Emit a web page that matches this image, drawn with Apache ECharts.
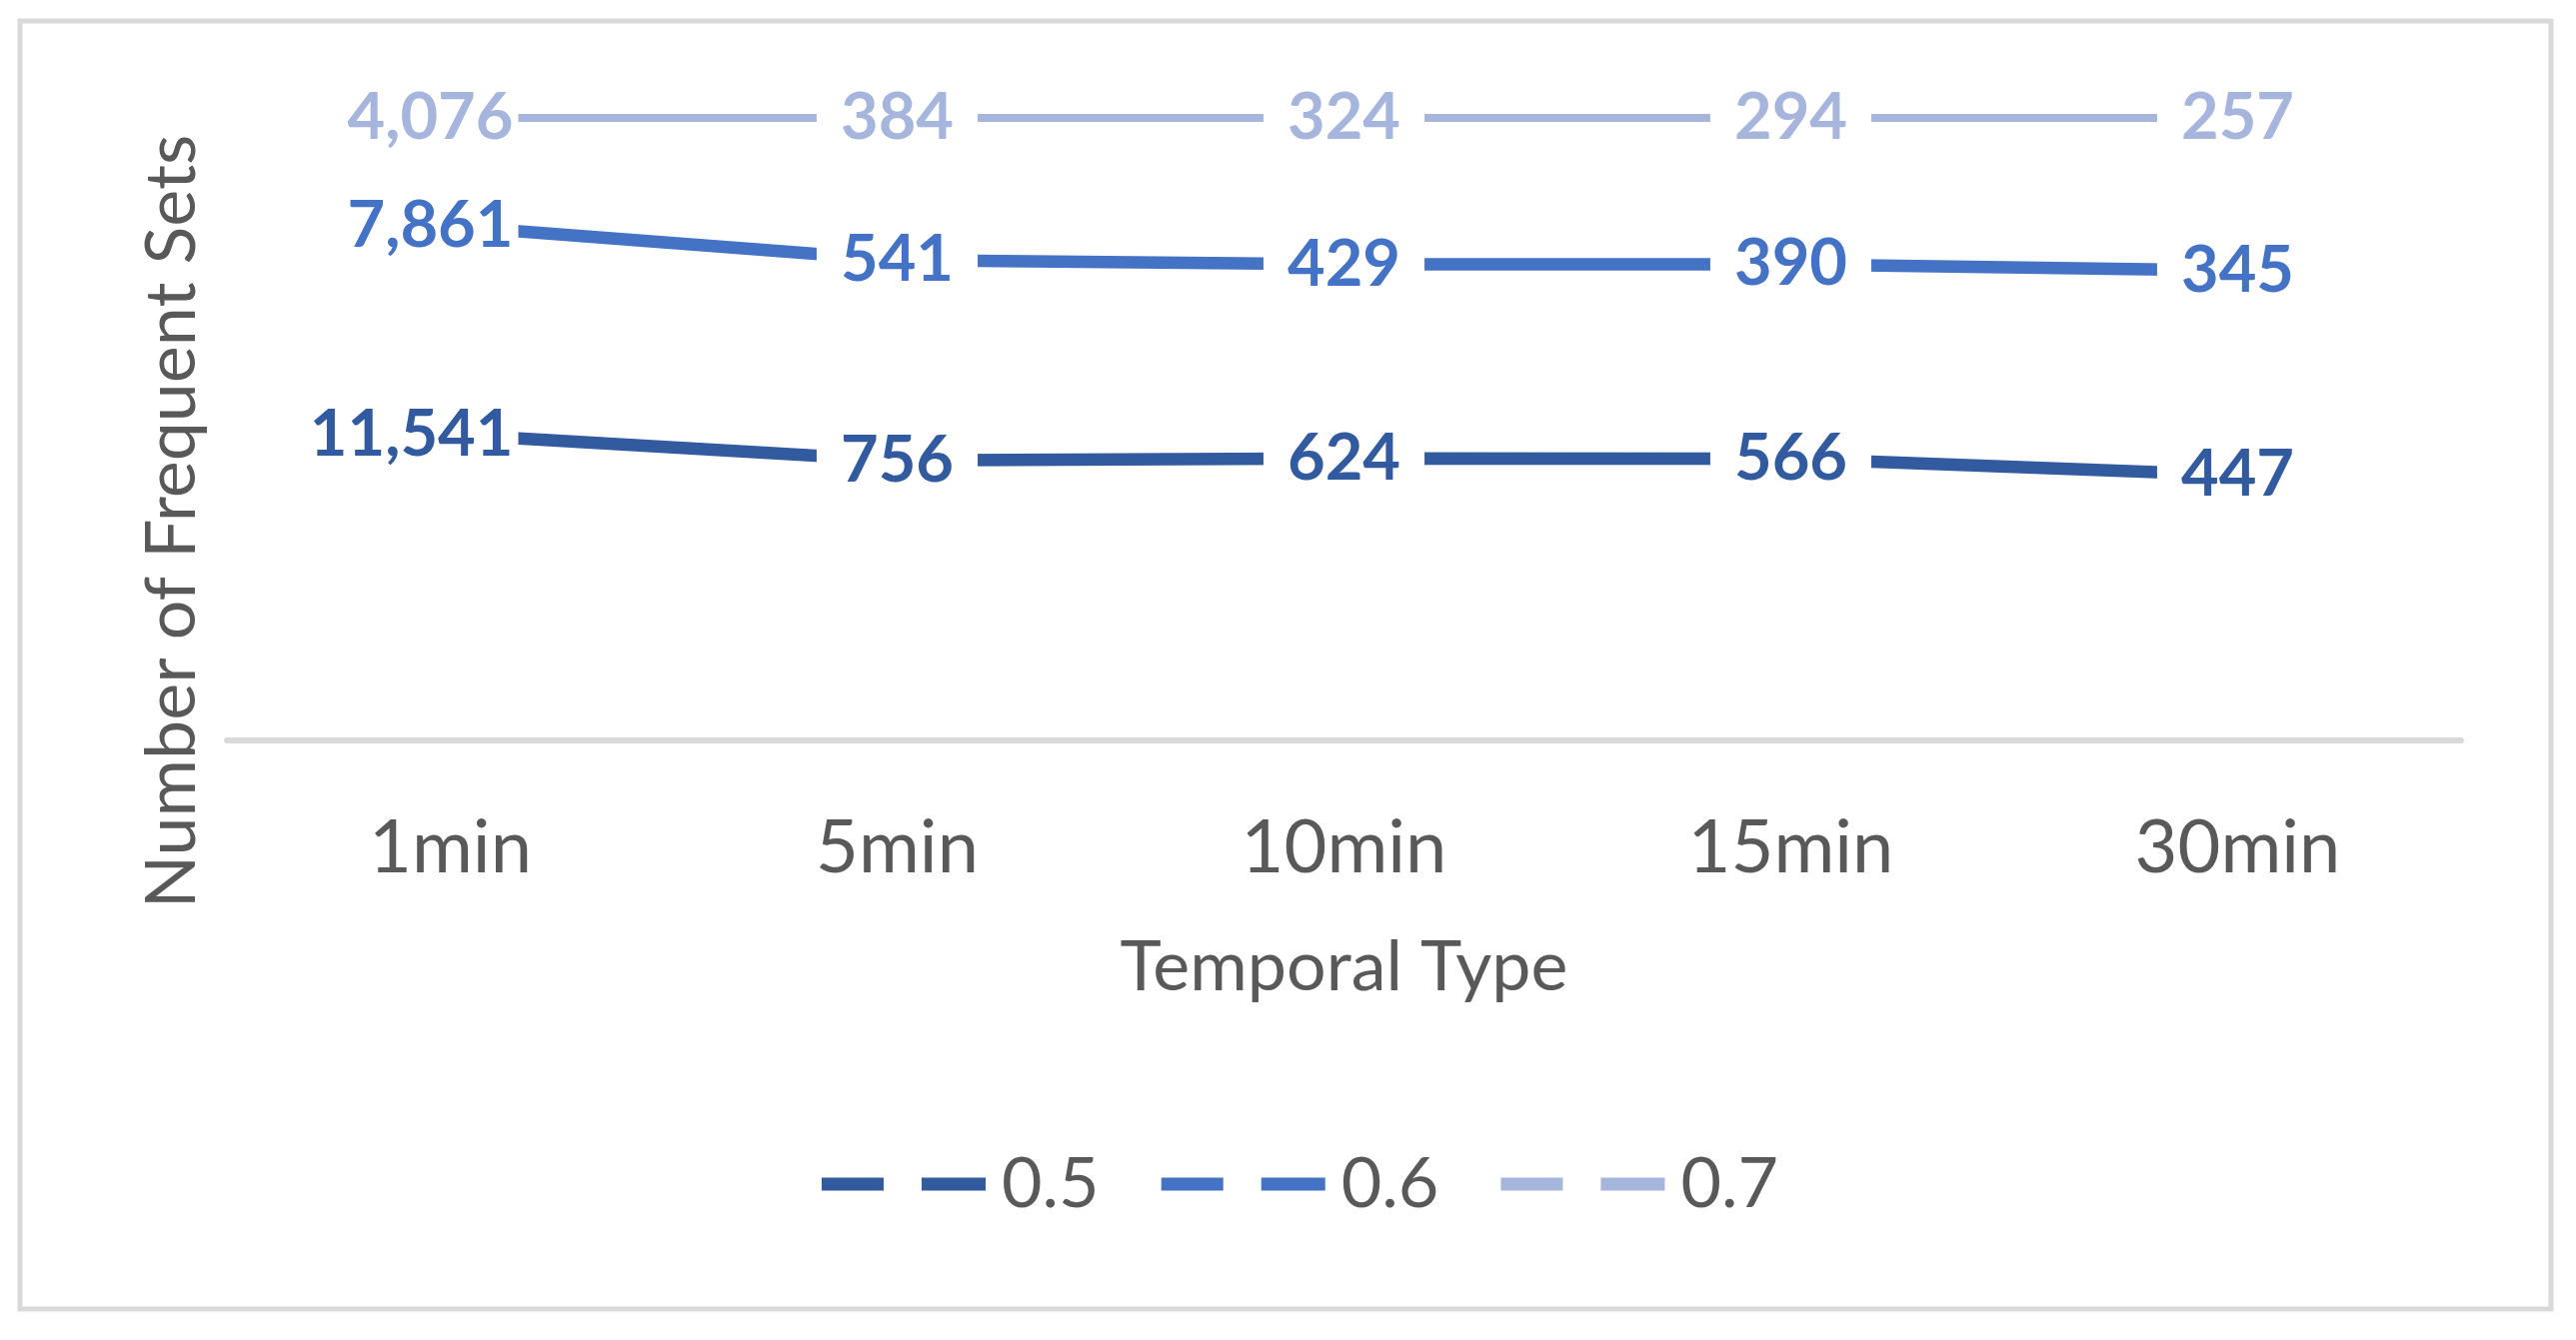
<!DOCTYPE html>
<html><head><meta charset="utf-8">
<script src="https://cdn.jsdelivr.net/npm/echarts@6/dist/echarts.min.js"></script>
<style>html,body{margin:0;padding:0;background:#fff}#c{width:2577px;height:1341px}</style>
</head><body><div id="c"></div>
<script>
const categories = ['1min', '5min', '10min', '15min', '30min'];
const seriesNames = ['0.5', '0.6', '0.7'];
const values05 = [11541, 756, 624, 566, 447];
const values06 = [7861, 541, 429, 390, 345];
const values07 = [4076, 384, 324, 294, 257];
const colors = ['#325a9f', '#4472c4', '#a6b5dc'];
const lineWidths = [12.5, 12.5, 8];

const raw = [values05, values06, values07];
// 100% stacked line: each value as share of the category total
const totals = categories.map((c, i) => raw.reduce((s, arr) => s + arr[i], 0));
const FONT = 'Lato';

const series = raw.map((arr, si) => ({
  name: seriesNames[si],
  type: 'line',
  stack: 'total',
  symbol: 'circle',
  symbolSize: 0.1,
  showSymbol: true,
  z: 2 + si,
  itemStyle: { color: colors[si] },
  lineStyle: { color: colors[si], width: lineWidths[si], cap: 'butt' },
  label: {
    show: true,
    position: 'inside',
    fontFamily: FONT,
    fontWeight: 'bold',
    fontSize: 65,
    color: colors[si],
    backgroundColor: '#ffffff',
    padding: [2, 24],
    formatter: p => raw[p.seriesIndex][p.dataIndex].toLocaleString('en-US')
  },
  data: arr.map((v, i) => {
    const item = { value: v / totals[i] };
    if (i === 0) item.label = { align: 'right', offset: [68, 0], padding: [2, 5, 2, 24] };
    return item;
  })
}));

const chart = echarts.init(document.getElementById('c'), null, { renderer: 'canvas' });
chart.setOption({
  animation: false,
  backgroundColor: '#ffffff',
  grid: { left: 227, right: 115, top: 118, bottom: 600, containLabel: false },
  xAxis: {
    type: 'category',
    data: categories,
    boundaryGap: true,
    axisLine: { show: true, lineStyle: { color: '#d9d9d9', width: 6 } },
    axisTick: { show: false },
    axisLabel: { color: '#595959', fontFamily: FONT, fontSize: 74, margin: 71 },
    name: 'Temporal Type',
    nameLocation: 'middle',
    nameGap: 192,
    nameTextStyle: { color: '#595959', fontFamily: FONT, fontSize: 70 }
  },
  yAxis: {
    type: 'value',
    min: 0,
    max: 1,
    show: false,
    splitLine: { show: false }
  },
  legend: {
    data: seriesNames,
    left: 817,
    top: 1145,
    itemWidth: 164,
    itemHeight: 13,
    itemGap: 62,
    icon: 'path://M0,0L62,0L62,13L0,13Z M100,0L164,0L164,13L100,13Z',
    textStyle: { color: '#595959', fontFamily: FONT, fontSize: 70, padding: [0, 0, 0, 11] }
  },
  graphic: [
    {
      type: 'rect',
      shape: { x: 20, y: 21, width: 2532, height: 1289 },
      style: { fill: 'none', stroke: '#d9d9d9', lineWidth: 5 },
      silent: true,
      z: 0
    },
    {
      type: 'text',
      x: 172,
      y: 522,
      rotation: Math.PI / 2,
      style: {
        text: 'Number of Frequent Sets',
        fontFamily: FONT,
        fontSize: 70,
        fill: '#595959',
        textAlign: 'center',
        textVerticalAlign: 'middle'
      },
      silent: true
    }
  ],
  series: series
});
</script>
</body></html>
